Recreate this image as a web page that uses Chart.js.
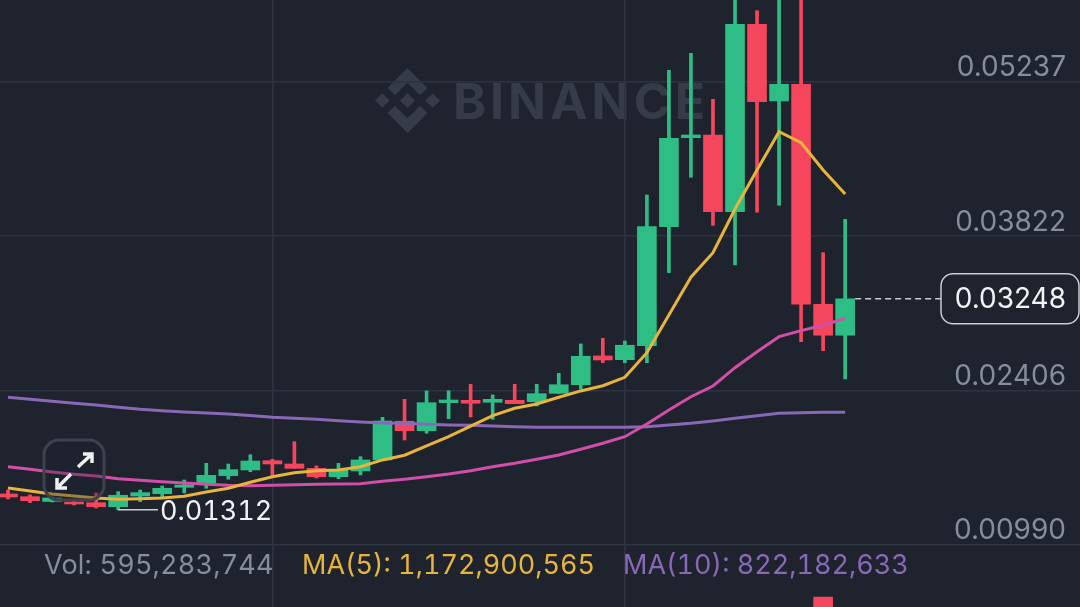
<!DOCTYPE html>
<html>
<head>
<meta charset="utf-8">
<title>Binance candles</title>
<script src="https://cdn.jsdelivr.net/npm/chart.js@4/dist/chart.umd.min.js"></script>
<style>
    html, body { margin: 0; padding: 0; background: #1e232e; overflow: hidden; }
    #wrap { position: relative; width: 1080px; height: 607px; font-family: Inter, sans-serif; }
    #wrap canvas { position: absolute; left: 0; top: 0; z-index: 2; }
    .logo { position: absolute; left: 375px; top: 68px; z-index: 1; }
    .mark { position: absolute; left: 453px; top: 71px; z-index: 1; font-size: 50px; line-height: 60px; font-weight: 700; color: #363c47; letter-spacing: 4px; }
    .legend { position: absolute; top: 549px; z-index: 3; font-size: 27px; line-height: 32px; white-space: nowrap; font-variant-numeric: tabular-nums; }
    .lowLabel { position: absolute; left: 160px; top: 495px; z-index: 3; font-size: 27px; line-height: 32px; color: #f1f3f5; font-variant-numeric: tabular-nums; }
    .expand { position: absolute; left: 40px; top: 436px; z-index: 4; }
</style>
</head>
<body>
<div id="wrap">
    <svg class="logo" width="65" height="65" viewBox="0 0 24 24"><path fill="#363c47" d="M7.34 10.08L12 5.42l4.66 4.66 2.71-2.71L12 0 4.63 7.37l2.71 2.71zM0 12l2.71-2.71L5.42 12l-2.71 2.71L0 12zm7.34 1.92L12 18.58l4.66-4.66 2.71 2.71L12 24l-7.37-7.37 2.71-2.71zM18.58 12l2.71-2.71L24 12l-2.71 2.71L18.58 12zm-3.83 0L12 9.25 9.25 12 12 14.75 14.75 12z"/></svg>
    <div class="mark">BINANCE</div>
    <canvas id="candleChart"></canvas>
    <div class="lowLabel">0.01312</div>
    <div class="legend" style="left:44px;color:#848e9c;letter-spacing:0.2px">Vol: 595,283,744</div>
    <div class="legend" style="left:302px;color:#e8b53c">MA(5): 1,172,900,565</div>
    <div class="legend" style="left:623px;color:#8a68b8">MA(10): 822,182,633</div>
    <svg class="expand" width="68" height="68" viewBox="40 436 68 68">
        <rect x="44" y="440" width="60" height="60" rx="15" fill="rgba(30,35,46,0.35)" stroke="#3d424d" stroke-width="3"/>
        <path d="M78 467L92 454M83 454H92V463M71 474L57 488M57 478V488H67" fill="none" stroke="#eef0f2" stroke-width="3.5"/>
    </svg>
</div>
<script>
// ============================================================
// DATA
// ============================================================
const opens = [0.01458, 0.01433, 0.01389, 0.01384, 0.01378, 0.01341, 0.01439, 0.01460, 0.01519, 0.01556,
    0.01626, 0.01678, 0.01763, 0.01733, 0.01693, 0.01616, 0.01669, 0.01770, 0.02125, 0.02038,
    0.02295, 0.02317, 0.02299, 0.02317, 0.02304, 0.02381, 0.02460, 0.02724, 0.02690, 0.02818,
    0.03910, 0.04726, 0.04751, 0.04047, 0.05766, 0.05063, 0.05216, 0.03198, 0.02914];
const closes = [0.01430, 0.01396, 0.01421, 0.01366, 0.01341, 0.01446, 0.01470, 0.01510, 0.01540, 0.01629,
    0.01681, 0.01760, 0.01733, 0.01693, 0.01616, 0.01678, 0.01770, 0.02127, 0.02038, 0.02295,
    0.02320, 0.02290, 0.02326, 0.02286, 0.02378, 0.02460, 0.02721, 0.02687, 0.02822, 0.03910,
    0.04721, 0.04751, 0.04047, 0.05766, 0.05056, 0.05216, 0.03198, 0.02914, 0.03248];
const highs = [0.01494, 0.01449, 0.01430, 0.01389, 0.01467, 0.01479, 0.01494, 0.01531, 0.01586, 0.01739,
    0.01733, 0.01818, 0.01776, 0.01937, 0.01715, 0.01739, 0.01800, 0.02161, 0.02326, 0.02403,
    0.02405, 0.02464, 0.02366, 0.02464, 0.02464, 0.02565, 0.02834, 0.02886, 0.02861, 0.04200,
    0.05344, 0.05500, 0.05078, 0.06081, 0.05891, 0.06150, 0.06120, 0.03671, 0.03977];
const lows = [0.01412, 0.01378, 0.01384, 0.01357, 0.01329, 0.01312, 0.01387, 0.01433, 0.01467, 0.01510,
    0.01593, 0.01662, 0.01616, 0.01693, 0.01604, 0.01598, 0.01632, 0.01770, 0.01953, 0.02015,
    0.02148, 0.02164, 0.02143, 0.02286, 0.02265, 0.02381, 0.02418, 0.02662, 0.02662, 0.02662,
    0.03488, 0.04363, 0.03922, 0.03558, 0.04042, 0.04106, 0.02855, 0.02772, 0.02513];

const maYellow = [0.01513, 0.01485, 0.01458, 0.01439, 0.01421, 0.01409, 0.01415, 0.01421, 0.01437, 0.01476,
    0.01510, 0.01565, 0.01616, 0.01653, 0.01671, 0.01678, 0.01708, 0.01770, 0.01813, 0.01898,
    0.01983, 0.02081, 0.02176, 0.02244, 0.02283, 0.02345, 0.02403, 0.02451, 0.02528, 0.02754,
    0.03100, 0.03446, 0.03671, 0.04072, 0.04430, 0.04781, 0.04680, 0.04430, 0.04210];
const maPink = [0.01708, 0.01684, 0.01660, 0.01638, 0.01623, 0.01598, 0.01583, 0.01571, 0.01559, 0.01547,
    0.01538, 0.01534, 0.01538, 0.01543, 0.01547, 0.01549, 0.01552, 0.01574, 0.01593, 0.01616,
    0.01641, 0.01671, 0.01708, 0.01739, 0.01776, 0.01815, 0.01868, 0.01923, 0.01983, 0.02100,
    0.02228, 0.02350, 0.02448, 0.02616, 0.02763, 0.02901, 0.02956, 0.03005, 0.03069];
const maPurple = [0.02345, 0.02326, 0.02308, 0.02291, 0.02274, 0.02253, 0.02235, 0.02222, 0.02210, 0.02201,
    0.02192, 0.02178, 0.02161, 0.02152, 0.02143, 0.02129, 0.02118, 0.02109, 0.02106, 0.02097,
    0.02091, 0.02088, 0.02081, 0.02075, 0.02070, 0.02070, 0.02070, 0.02070, 0.02070, 0.02075,
    0.02091, 0.02106, 0.02127, 0.02152, 0.02176, 0.02198, 0.02203, 0.02207, 0.02207];

// only one volume bar pokes into the bottom of the picture
const volumeIndex = [37];
const volumeValues = [2600000000];

const priceTicks = [0.00990, 0.02406, 0.03822, 0.05237];
const timeTicks = [12, 28];
const lastPrice = 0.03248;
const lowPrice = 0.01312;
const lowIndex = 5;

// ============================================================
// CHART
// ============================================================
const GREEN = '#2ebd85';
const RED = '#f6465d';
const GRID = '#2e343f';
const BG = '#1e232e';
const FONT = 'Inter, sans-serif';

const candleColors = opens.map((o, i) => closes[i] >= o ? GREEN : RED);

function lineSet(label, values, color) {
    return {
        type: 'line',
        label: label,
        data: values.map((v, i) => ({ x: i, y: v })),
        borderColor: color,
        borderWidth: 3,
        pointRadius: 0,
        tension: 0,
        order: 0
    };
}

// dashed last price line + box, and the line to the low marker
const pricePlugin = {
    id: 'priceLabels',
    afterDraw(chart) {
        const { ctx, scales } = chart;
        const y = scales.y.getPixelForValue(lastPrice);
        const xEnd = scales.x.getPixelForValue(opens.length - 1) + 10;
        ctx.save();
        ctx.strokeStyle = '#c9ccd1';
        ctx.lineWidth = 1.5;
        ctx.setLineDash([6, 4]);
        ctx.beginPath();
        ctx.moveTo(xEnd, y);
        ctx.lineTo(941, y);
        ctx.stroke();
        ctx.setLineDash([]);

        ctx.beginPath();
        ctx.roundRect(941, y - 25, 138, 50, 12);
        ctx.fillStyle = BG;
        ctx.fill();
        ctx.strokeStyle = '#c9ccd1';
        ctx.stroke();

        ctx.font = '28px ' + FONT;
        ctx.textBaseline = 'middle';
        ctx.textAlign = 'right';
        ctx.fillStyle = '#f1f3f5';
        ctx.fillText(lastPrice.toFixed(5), 1066, y + 1);

        const lowY = scales.y.getPixelForValue(lowPrice);
        ctx.beginPath();
        ctx.moveTo(scales.x.getPixelForValue(lowIndex), lowY);
        ctx.lineTo(158, lowY);
        ctx.stroke();
        ctx.restore();
    }
};

new Chart(document.getElementById('candleChart'), {
    data: {
        datasets: [
            lineSet('MA yellow', maYellow, '#e8b53c'),
            lineSet('MA pink', maPink, '#d14fa8'),
            lineSet('MA purple', maPurple, '#8a68b8'),
            {
                type: 'bar',
                label: 'Body',
                data: opens.map((o, i) => ({ x: i, y: [o, closes[i]] })),
                backgroundColor: candleColors,
                barThickness: 19,
                grouped: false,
                order: 1
            },
            {
                type: 'bar',
                label: 'Wick',
                data: lows.map((l, i) => ({ x: i, y: [l, highs[i]] })),
                backgroundColor: candleColors,
                barThickness: 3,
                grouped: false,
                order: 2
            },
            {
                type: 'bar',
                label: 'Volume',
                yAxisID: 'vol',
                data: volumeIndex.map((x, i) => ({ x: x, y: volumeValues[i] })),
                backgroundColor: RED,
                barThickness: 19,
                grouped: false,
                order: 3
            }
        ]
    },
    options: {
        responsive: true,
        maintainAspectRatio: false,
        animation: false,
        layout: { padding: 0 },
        plugins: {
            legend: { display: false },
            tooltip: { enabled: false }
        },
        scales: {
            x: {
                type: 'linear',
                offset: false,
                min: -0.363,
                max: 48.66,
                afterBuildTicks(axis) { axis.ticks = timeTicks.map(v => ({ value: v })); },
                afterFit(axis) { axis.height = 0; },
                grid: { color: GRID, lineWidth: 1.5, drawTicks: false, offset: false },
                border: { display: false },
                ticks: { display: false }
            },
            y: {
                type: 'linear',
                position: 'right',
                min: 0.00421,
                max: 0.05989,
                afterBuildTicks(axis) { axis.ticks = priceTicks.map(v => ({ value: v })); },
                afterFit(axis) {
                    axis.width = 0;
                    axis.paddingTop = 0;
                    axis.paddingBottom = 0;
                },
                grid: { color: GRID, lineWidth: 1.5, drawTicks: false },
                border: { display: false },
                ticks: {
                    mirror: true,
                    padding: -14,
                    labelOffset: -14,
                    color: '#848e9c',
                    font: { family: 'Inter', size: 28 },
                    callback: v => v.toFixed(5)
                }
            },
            vol: {
                type: 'linear',
                display: false,
                min: 2500000000,
                max: 8570000000
            }
        }
    },
    plugins: [pricePlugin]
});
</script>
</body>
</html>
